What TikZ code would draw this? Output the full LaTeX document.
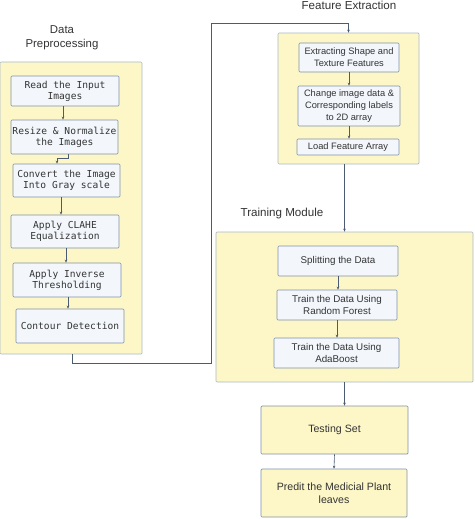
\documentclass[tikz,border=0pt]{standalone}
\usepackage{fontspec}
\setmainfont{Liberation Sans}
\setmonofont{DejaVu Sans Mono}
\usetikzlibrary{arrows.meta}
\definecolor{contfill}{HTML}{FDF7C8}
\definecolor{contdraw}{HTML}{A9B8C9}
\definecolor{boxfill}{HTML}{F3F7FC}
\definecolor{boxdraw}{HTML}{7E90A6}
\definecolor{linec}{HTML}{4B5B70}
\definecolor{txt}{HTML}{333333}
\tikzset{
  cont/.style={draw=contdraw, fill=contfill, line width=0.7pt, rounded corners=1pt, inner sep=0pt},
  ibox/.style={draw=boxdraw, fill=boxfill, line width=0.6pt, rounded corners=1pt, inner sep=1pt, align=center, text=txt},
  mbox/.style={ibox, font=\ttfamily\fontsize{9.6}{11.2}\selectfont},
  sbox/.style={ibox, font=\fontsize{9.3}{11.8}\selectfont},
  tbox/.style={ibox, font=\fontsize{9.8}{12}\selectfont},
  ybox/.style={draw=boxdraw, fill=contfill, line width=0.7pt, rounded corners=1pt, inner sep=1pt, align=center, text=txt, font=\fontsize{10.6}{13.5}\selectfont},
  ttl/.style={align=center, text=txt, font=\fontsize{11.6}{14}\selectfont},
  arr/.style={draw=linec, line width=0.6pt, -{Stealth[length=3pt,width=2.6pt]}},
}
\begin{document}
\begin{tikzpicture}[x=1pt,y=-1pt]
\useasboundingbox (0,0) rectangle (474,519);
% containers
\node[cont, minimum width=142pt, minimum height=292pt] (Lc) at (71,208) {};
\node[cont, minimum width=141pt, minimum height=131pt] (Fc) at (348.5,98.5) {};
\node[cont, minimum width=257pt, minimum height=150pt] (Tc) at (344.5,307) {};
% titles
\node[ttl, font=\fontsize{11.4}{14}\selectfont] (tL) at (62,38) {Data\\Preprocessing};
\node[ttl] (tF) at (349,5) {Feature Extraction};
\node[ttl] (tT) at (282,213) {Training Module};
% left boxes
\node[mbox, minimum width=108pt, minimum height=30pt] (L1) at (65,91) {Read the Input\\Images};
\node[mbox, minimum width=107pt, minimum height=34pt] (L2) at (64.5,137) {Resize \& Normalize\\the Images};
\node[mbox, minimum width=107pt, minimum height=33pt] (L3) at (66.5,180.5) {Convert the Image\\Into Gray scale};
\node[mbox, minimum width=108pt, minimum height=33pt] (L4) at (65,231.5) {Apply CLAHE\\Equalization};
\node[mbox, minimum width=108pt, minimum height=34pt] (L5) at (67,280) {Apply Inverse\\Thresholding};
\node[mbox, minimum width=108pt, minimum height=34pt] (L6) at (70,326) {Contour Detection};
% feature boxes
\node[sbox, minimum width=100pt, minimum height=29pt] (F1) at (349,57.5) {Extracting Shape and\\Texture Features};
\node[sbox, minimum width=102pt, minimum height=40pt] (F2) at (349,106) {Change image data \&\\Corresponding labels\\to 2D array};
\node[sbox, minimum width=102pt, minimum height=16pt] (F3) at (348,147) {Load Feature Array};
% training boxes
\node[tbox, minimum width=120pt, minimum height=30pt] (T1) at (338,261) {Splitting the Data};
\node[tbox, minimum width=120pt, minimum height=30pt] (T2) at (337,305) {Train the Data Using\\Random Forest};
\node[tbox, minimum width=125pt, minimum height=30pt] (T3) at (336.5,353) {Train the Data Using\\AdaBoost};
% bottom boxes
\node[ybox, minimum width=147pt, minimum height=48pt] (Ts) at (334.5,430) {Testing Set};
\node[ybox, minimum width=146pt, minimum height=48pt] (Pr) at (334,493) {Predit the Medicial Plant\\leaves};
% left arrows
\draw[arr] ([xshift=-2pt]L1.south) -- ([xshift=-1.5pt]L2.north);
\draw[arr] ([xshift=3.5pt]L2.south) -- ++(0,4) -| ([xshift=-9.5pt]L3.north);
\draw[arr] ([xshift=-5.5pt]L3.south) -- ([xshift=-4pt]L4.north);
\draw[arr] ([xshift=1pt]L4.south) -- ([xshift=-1pt]L5.north);
\draw[arr] ([xshift=1pt]L5.south) -- ([xshift=-2pt]L6.north);
% feature arrows
\draw[arr] (F1.south) -- (F2.north);
\draw[arr] (F2.south) -- (F2.south |- F3.north);
% training arrows
\draw[arr] (T1.south) -- (T1.south |- T2.north);
\draw[arr] (T2.south) -- (T2.south |- T3.north);
% long connector
\coordinate (bA) at (211,363);
\coordinate (bB) at (211,23);
\draw[arr] ([xshift=1pt]Lc.south) |- (bA) -- (bB) -| (Fc.north);
\draw[arr] (Fc.south -| Tc.north) -- (Tc.north);
\draw[arr] (Tc.south) -- (Tc.south |- Ts.north);
\draw[arr] (Ts.south) -- (Pr.north);
\end{tikzpicture}
\end{document}
